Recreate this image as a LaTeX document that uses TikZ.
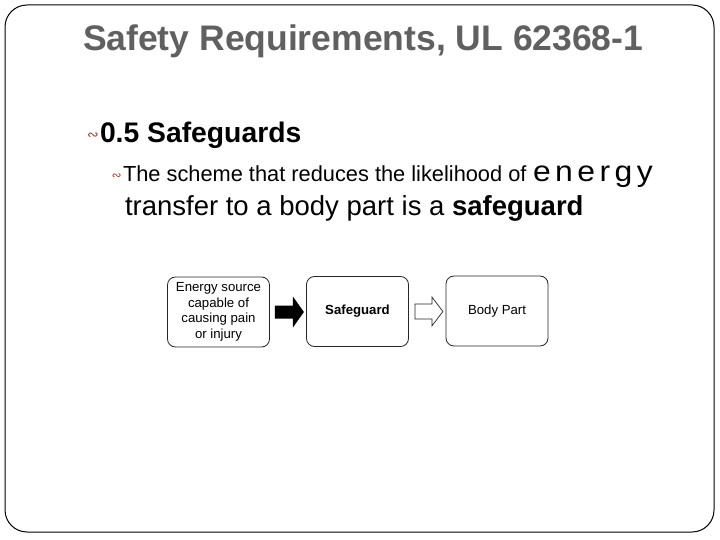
\documentclass[tikz,border=0pt]{standalone}
\usepackage{fontspec}
\setmainfont{Liberation Sans}
\newfontfamily\symfont{DejaVu Sans}
\usetikzlibrary{calc}
\definecolor{titlegray}{RGB}{96,96,96}
\definecolor{bulletred}{RGB}{150,70,50}
\tikzset{
  slideframe/.style={draw=black, line width=1pt, rounded corners=22pt},
  txt/.style={anchor=base west, inner sep=0pt, outer sep=0pt},
  flowbox/.style={draw=black!85, line width=0.8pt, rounded corners=8pt, minimum width=102pt, minimum height=70pt, align=center, inner sep=2pt, font=\fontsize{13.2}{15.5}\selectfont},
  bul/.style={anchor=base west, inner sep=0pt, text=bulletred}
}
\begin{document}
\begin{tikzpicture}[x=1pt,y=-1pt]
\useasboundingbox (0,0) rectangle (720,540);
\fill[white] (0,0) rectangle (720,540);
\draw[slideframe] (5,5) rectangle (714,532);
% title
\node[txt, text=titlegray, font=\fontsize{35.5}{40}\selectfont\bfseries] (title) at (83,51) {Safety Requirements, UL 62368-1};
% level 1
\node[bul, font=\fontsize{14}{16}\symfont] (b1) at (87,140) {∾};
\node[txt, font=\fontsize{28.3}{32}\selectfont\bfseries] (sub) at (100,143) {0.5 Safeguards};
% level 2
\node[bul, font=\fontsize{12}{14}\symfont] (b2) at (111.5,179.5) {∾};
\node[txt, font=\fontsize{21.8}{26}\selectfont] (l1) at (123,182) {The scheme that reduces the likelihood of};
\node[txt, font=\fontsize{29}{32}\selectfont] (l1b) at (533,182) {\scalebox{1.1}[1]{\addfontfeature{LetterSpace=14}energy}};
\node[txt, font=\fontsize{27.5}{32}\selectfont] (l2) at (125,215) {transfer to a body part is a \textbf{safeguard}};
% flow
\node[flowbox] (src) at (218.5,312) {Energy source\\capable of\\causing pain\\or injury};
\node[flowbox] (sg) at (357.5,311.5) {\bfseries Safeguard};
\node[flowbox] (bp) at (497,311) {Body Part};
\begin{scope}[shift={(src.east)}]
\fill[black] (5,-6.5) -- (23,-6.5) -- (23,-15.5) -- (34,0) -- (23,15.5) -- (23,6.5) -- (5,6.5) -- cycle;
\end{scope}
\begin{scope}[shift={(sg.east)}]
\draw[black!85, line width=0.7pt, fill=white] (6,-7.5) -- (23,-7.5) -- (23,-14.5) -- (34,0) -- (23,14.5) -- (23,7.5) -- (6,7.5) -- cycle;
\end{scope}
\end{tikzpicture}
\end{document}
